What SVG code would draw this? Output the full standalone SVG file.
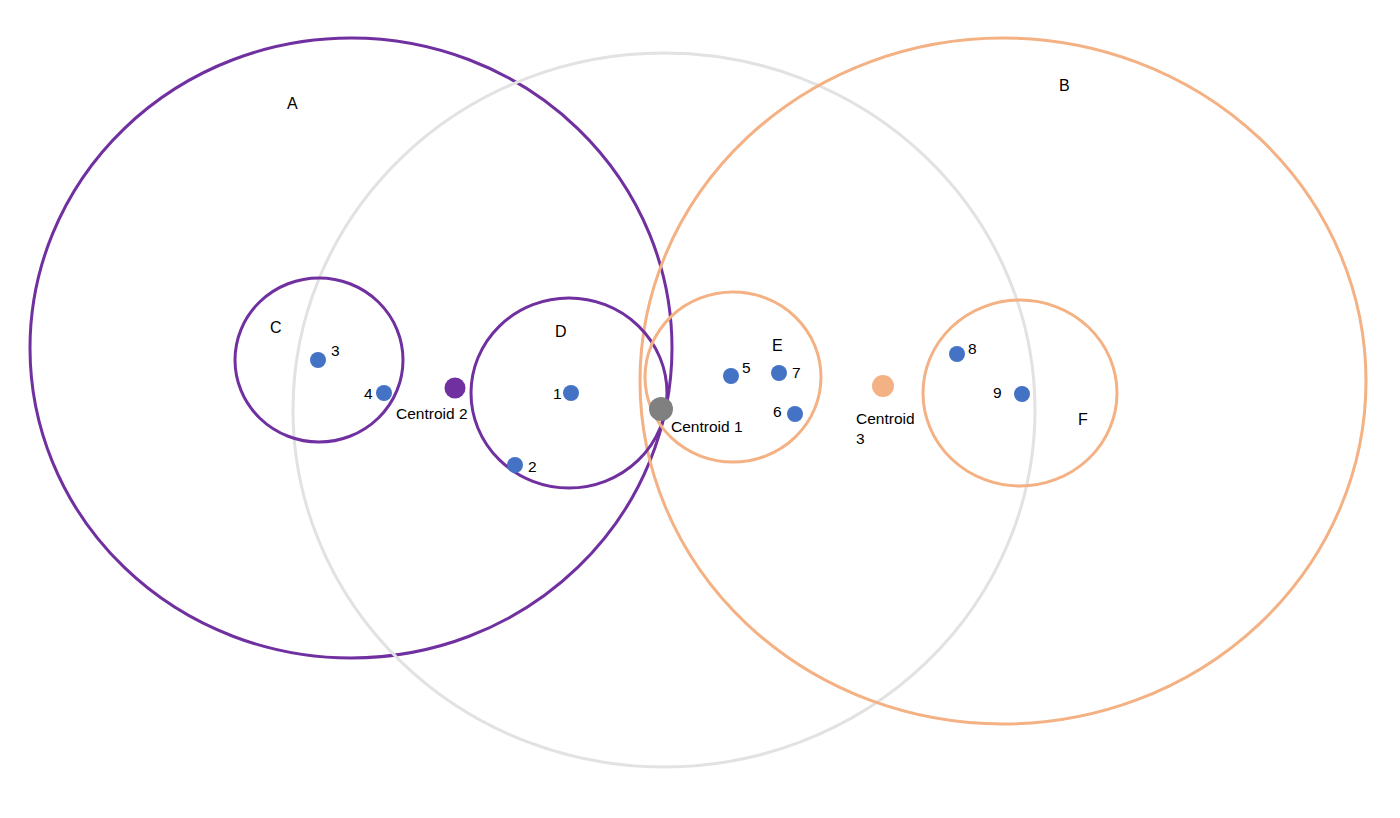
<svg xmlns="http://www.w3.org/2000/svg" width="1400" height="818" viewBox="0 0 1400 818">
<style>
.p{fill:none;stroke:#7030A0;stroke-width:3}
.o{fill:none;stroke:#F4B183;stroke-width:3}
.g{fill:none;stroke:#E2E2E2;stroke-width:3}
.pt{fill:#4472C4}
.lab{font-family:"Liberation Sans",Arial,sans-serif;font-size:16px;fill:#000}
.num{font-family:"Liberation Sans",Arial,sans-serif;font-size:15.5px;fill:#000}
</style>
<rect width="1400" height="818" fill="#fff"/>
<g id="clusters">
<g id="A"><ellipse class="p" cx="351" cy="348" rx="321" ry="310"/><text class="lab" x="287" y="109">A</text></g>
<g id="G"><ellipse class="g" cx="664" cy="410" rx="371" ry="357"/></g>
<g id="B"><ellipse class="o" cx="1003" cy="381" rx="363" ry="343"/><text class="lab" x="1059" y="91">B</text></g>
<g id="C"><ellipse class="p" cx="319" cy="360" rx="84" ry="82"/><text class="lab" x="270" y="333">C</text></g>
<g id="D"><ellipse class="p" cx="569" cy="393" rx="98" ry="95"/><text class="lab" x="555" y="337">D</text></g>
<g id="E"><ellipse class="o" cx="733" cy="377" rx="88" ry="85"/><text class="lab" x="772" y="351">E</text></g>
<g id="F"><ellipse class="o" cx="1020" cy="393" rx="97" ry="93"/><text class="lab" x="1078" y="425">F</text></g>
</g>
<g id="points">
<g id="p3"><circle class="pt" cx="318" cy="360" r="8"/><text class="num" x="331" y="356">3</text></g>
<g id="p4"><circle class="pt" cx="384" cy="393" r="8"/><text class="num" x="364" y="399">4</text></g>
<g id="p1"><circle class="pt" cx="571" cy="393" r="8"/><text class="num" x="553" y="399">1</text></g>
<g id="p2"><circle class="pt" cx="515" cy="465" r="8"/><text class="num" x="528" y="472">2</text></g>
<g id="p5"><circle class="pt" cx="731" cy="376" r="8"/><text class="num" x="742" y="373">5</text></g>
<g id="p7"><circle class="pt" cx="779" cy="373" r="8"/><text class="num" x="792" y="378">7</text></g>
<g id="p6"><circle class="pt" cx="795" cy="414" r="8"/><text class="num" x="773" y="417">6</text></g>
<g id="p8"><circle class="pt" cx="957" cy="354" r="8"/><text class="num" x="968" y="354">8</text></g>
<g id="p9"><circle class="pt" cx="1022" cy="394" r="8"/><text class="num" x="993" y="398">9</text></g>
</g>
<g id="centroids">
<g id="c2"><circle cx="455" cy="388" r="10.5" fill="#7030A0"/><text class="num" x="396" y="419">Centroid 2</text></g>
<g id="c1"><circle cx="661" cy="409" r="12" fill="#808080"/><text class="num" x="671" y="432">Centroid 1</text></g>
<g id="c3"><circle cx="883" cy="386" r="11" fill="#F4B183"/><text class="num" x="856" y="424">Centroid</text><text class="num" x="856" y="444">3</text></g>
</g>
<g id="connectors"/>
</svg>
